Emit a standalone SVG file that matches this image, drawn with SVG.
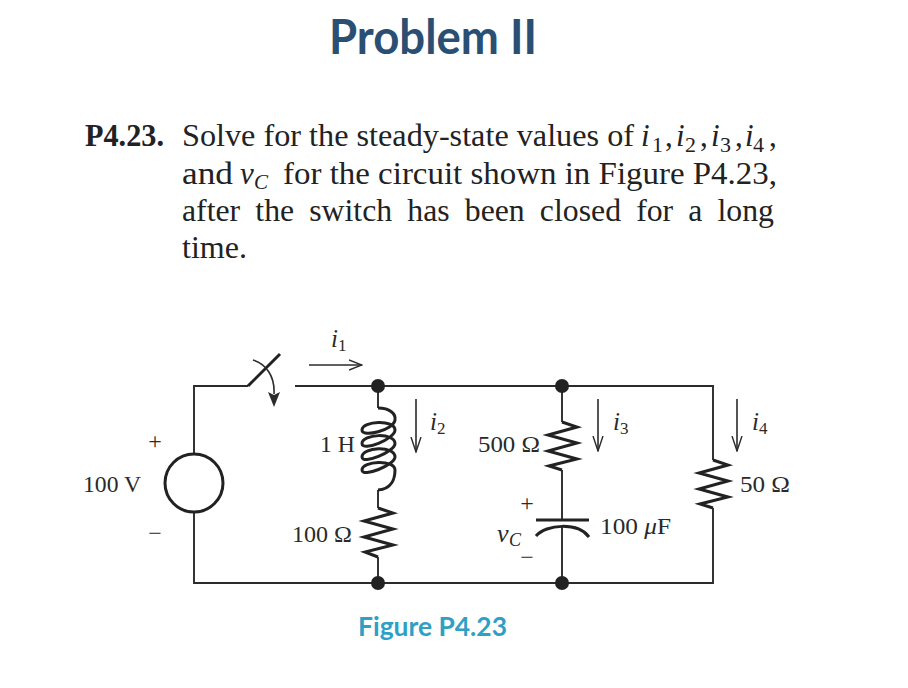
<svg xmlns="http://www.w3.org/2000/svg" width="908" height="688" viewBox="0 0 908 688">
<defs>
<marker id="open" viewBox="0 0 14 12" refX="13" refY="6" markerWidth="14" markerHeight="12" markerUnits="userSpaceOnUse" orient="auto"><path d="M0 1 L13 6 L0 11" fill="none" stroke="#2b2b2b" stroke-width="1.4"/></marker>
<marker id="solid" viewBox="0 0 12 15" refX="6" refY="2" markerWidth="12" markerHeight="15" markerUnits="userSpaceOnUse" orient="0"><path d="M0 0 L6 3 L12 0 L6 15 Z" fill="#2b2b2b"/></marker>
<marker id="down" viewBox="0 0 12 16" refX="6" refY="15" markerWidth="12" markerHeight="16" markerUnits="userSpaceOnUse" orient="0"><path d="M1 0 L6 15 L11 0" fill="none" stroke="#2b2b2b" stroke-width="1.4"/></marker>
</defs>
<style>
text{font-family:"Liberation Serif","Times New Roman",serif;fill:#2a2a2a}
.body{font-size:31px;fill:#222}
.bsub{font-size:22px;fill:#222}
.lab{font-size:24px}
.cur-lab{font-size:25px}
.it{font-style:italic}
.sub{font-size:17px}
.wire{fill:none;stroke:#2b2b2b;stroke-width:1.9}
.part{fill:none;stroke:#222;stroke-width:3}
.cur{fill:none;stroke:#2b2b2b;stroke-width:1.6}
.dot{fill:#222}
.head{font-family:Lato,"Open Sans",sans-serif;font-weight:700}
</style>
<rect width="908" height="688" fill="#fff"/>
<text class="head" x="329" y="54" textLength="208" lengthAdjust="spacingAndGlyphs" style="font-size:47px;fill:#2a4f73">Problem II</text>
<g id="problem-text">
<text x="85" y="146" textLength="79" lengthAdjust="spacingAndGlyphs" class="body" style="font-weight:700">P4.23.</text>
<text x="182" y="146" textLength="452" lengthAdjust="spacingAndGlyphs" class="body">Solve for the steady-state values of</text>
<text x="641" y="146" class="body it">i</text><text x="652" y="152" class="bsub">1</text><text x="665" y="146" class="body">,</text>
<text x="676" y="146" class="body it">i</text><text x="685" y="152" class="bsub">2</text><text x="700" y="146" class="body">,</text>
<text x="711" y="146" class="body it">i</text><text x="720" y="152" class="bsub">3</text><text x="735" y="146" class="body">,</text>
<text x="745" y="146" class="body it">i</text><text x="753" y="152" class="bsub">4</text><text x="769" y="146" class="body">,</text>
<text x="182" y="184" textLength="51" lengthAdjust="spacingAndGlyphs" class="body">and</text>
<text x="240" y="184" class="body it">v</text><text x="254" y="189" class="bsub it" style="font-size:21px">C</text>
<text x="283" y="184" textLength="494" lengthAdjust="spacingAndGlyphs" class="body">for the circuit shown in Figure P4.23,</text>
<text x="182" y="221" textLength="592" lengthAdjust="spacingAndGlyphs" class="body" word-spacing="7">after the switch has been closed for a long</text>
<text x="182" y="258" class="body" textLength="65" lengthAdjust="spacingAndGlyphs">time.</text>
</g>
<g id="connectors">
<path class="wire" d="M194 454 V386 H248"/>
<path class="wire" d="M295 386 H713 V460"/>
<path class="wire" d="M194 512 V583 H713 V508"/>
<path class="wire" d="M378 386 V408"/>
<path class="wire" d="M378 490 V508"/>
<path class="wire" d="M378 557 V583"/>
<path class="wire" d="M562 386 V422"/>
<path class="wire" d="M562 470 V520"/>
<path class="wire" d="M562 526 V583"/>
</g>
<g id="source"><circle cx="194" cy="483" r="29" fill="none" stroke="#222" stroke-width="3"/>
<text x="155" y="449" class="lab" text-anchor="middle">+</text><text x="155" y="541" class="lab" text-anchor="middle">−</text>
<text x="83" y="492" class="lab" textLength="58" lengthAdjust="spacingAndGlyphs">100 V</text></g>
<g id="switch"><path class="part" d="M248 386 L280 354"/>
<path class="cur" d="M253 360 C266 364 275 376 274 394" marker-end="url(#solid)"/>
<path class="cur" d="M309 365 H362" marker-end="url(#open)"/>
<text x="331" y="347" class="cur-lab it">i</text><text x="338" y="351" class="sub">1</text></g>
<g id="inductor"><path class="part" d="M378 408 C390 408 396 414 395 420 C394 430 362 438 362 430 C362 421 395 419 395 430 C395 439 362 452 362 443.500 C362 434 395 432 395 443.500 C395 452 362 465 362 457 C362 447 395 445 395 457 C395 465 362 478 362 470 C362 461 395 459 395 470 C395 478 392 489 378 490"/>
<text x="320" y="452" class="lab" textLength="35" lengthAdjust="spacingAndGlyphs">1 H</text></g>
<g id="r100"><path class="part" d="M378 508 L393 513 L364 521 L393 529 L364 537 L393 545 L365 552 L378 557"/>
<text x="292" y="542" class="lab" textLength="60" lengthAdjust="spacingAndGlyphs">100 Ω</text></g>
<g id="r500"><path class="part" d="M562 422 L577 427 L548 435 L577 443 L548 451 L577 459 L549 466 L562 470"/>
<text x="478" y="452" class="lab" textLength="62" lengthAdjust="spacingAndGlyphs">500 Ω</text></g>
<g id="r50"><path class="part" d="M713 460 L728 465 L699 473 L728 481 L699 489 L728 497 L700 504 L713 508"/>
<text x="740" y="492" class="lab" textLength="50" lengthAdjust="spacingAndGlyphs">50 Ω</text></g>
<g id="capacitor"><path class="part" d="M536 520 H589"/><path class="part" d="M536 536 C546 524 578 522 589 537"/>
<text x="600" y="534" class="lab" textLength="71" lengthAdjust="spacingAndGlyphs">100 <tspan class="it">μ</tspan>F</text>
<text x="527" y="511" class="lab" text-anchor="middle">+</text><text x="527" y="565" class="lab" text-anchor="middle">−</text>
<text x="497" y="542" class="it" style="font-size:26px">v</text><text x="509" y="546" class="it" style="font-size:18px">C</text></g>
<g id="current-labels">
<path class="cur" d="M416 399 V452" marker-end="url(#down)"/><text x="430" y="430" class="cur-lab it">i</text><text x="437" y="434" class="sub">2</text>
<path class="cur" d="M598 399 V451" marker-end="url(#down)"/><text x="613" y="430" class="cur-lab it">i</text><text x="620" y="434" class="sub">3</text>
<path class="cur" d="M737 399 V451" marker-end="url(#down)"/><text x="752" y="430" class="cur-lab it">i</text><text x="759" y="434" class="sub">4</text>
</g>
<g id="junctions"><circle class="dot" cx="378" cy="386" r="7"/><circle class="dot" cx="562" cy="386" r="7"/><circle class="dot" cx="378" cy="583" r="7"/><circle class="dot" cx="562" cy="583" r="7"/></g>
<text class="head" x="358" y="636" textLength="149" lengthAdjust="spacingAndGlyphs" style="font-size:26px;fill:#2f9fc6">Figure P4.23</text>
</svg>
